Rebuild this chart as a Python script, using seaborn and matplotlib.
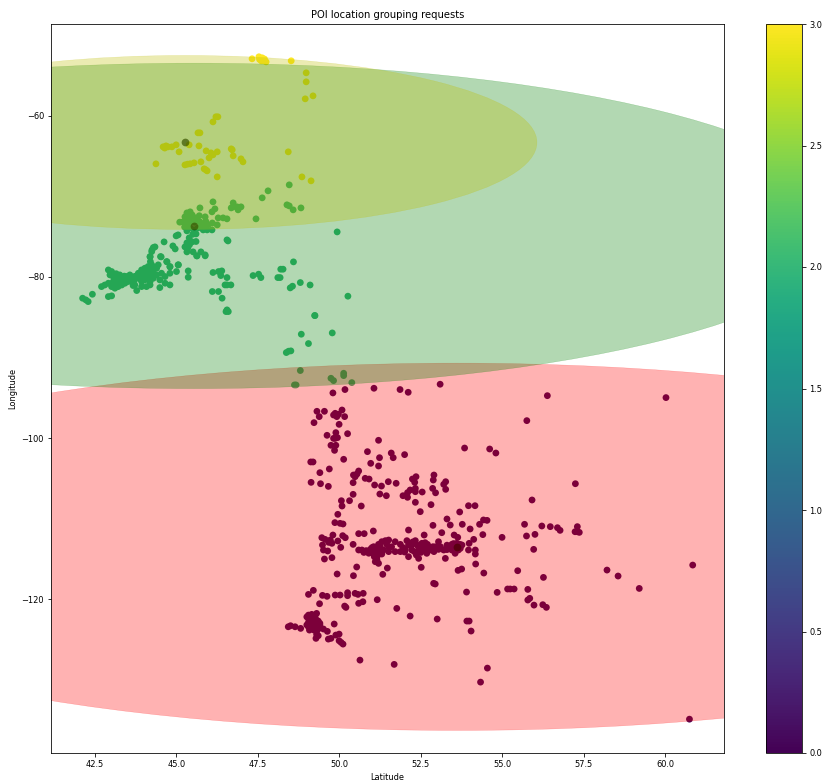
import numpy as np
import pandas as pd
import matplotlib
matplotlib.use("Agg")
import matplotlib.pyplot as plt
from matplotlib.patches import Circle
from matplotlib.cm import ScalarMappable
from matplotlib.colors import Normalize
import seaborn as sns

plt.rcParams['font.size'] = 8.3

# (lat, lon), one list per group
group_0 = [
    (49.8,-94.4),(50.17,-93.98),(51.06,-93.82),(51.86,-93.98),(52.11,-94.32),(53.09,-93.32),
    (55.75,-97.84),(49.31,-96.68),(49.54,-96.68),(49.38,-97.34),(50.08,-96.52),(49.82,-97.14),
    (49.9,-97.14),(49.97,-97.05),(49.87,-96.93),(49.92,-97.34),(50.16,-97.34),(49.22,-98.09),
    (49.99,-98.3),(49.62,-99.66),(49.89,-99.33),(49.87,-100.04),(49.94,-99.95),(49.82,-100.04),
    (50.25,-99.46),(51.2,-100.28),(49.74,-100.9),(49.89,-100.9),(49.85,-101.53),(50.86,-101.69),
    (51.59,-101.86),(51.65,-102.44),(51.23,-102.44),(52.0,-102.06),(53.84,-101.24),(54.61,-101.36),
    (54.8,-101.86),(50.13,-102.64),(49.12,-102.97),(49.19,-102.97),(50.96,-103.14),(51.2,-103.47),
    (49.69,-103.84),(49.4,-104.3),(50.59,-104.09),(50.43,-104.59),(50.5,-104.59),(50.54,-104.46),
    (50.48,-104.8),(50.79,-105.0),(50.91,-105.09),(49.13,-105.5),(49.42,-105.67),(49.66,-106.0),
    (50.42,-105.54),(51.08,-105.83),(51.29,-105.96),(51.5,-105.42),(51.74,-105.62),(52.35,-104.8),
    (52.24,-105.09),(52.31,-105.5),(52.9,-104.59),(52.88,-105.21),(53.26,-105.42),(53.2,-105.75),
    (53.26,-106.37),(52.86,-106.25),(52.95,-106.8),(52.54,-106.7),(52.33,-106.25),(52.33,-106.66),
    (52.17,-106.45),(52.09,-106.78),(51.95,-107.16),(52.09,-107.36),(51.24,-106.95),(51.44,-107.16),
    (50.42,-106.99),(50.06,-107.78),(50.31,-107.78),(50.08,-108.44),(50.67,-108.44),(52.33,-107.98),
    (52.81,-108.27),(53.96,-108.4),(54.16,-108.4),(49.95,-109.47),(52.48,-109.14),(53.69,-109.18),
    (49.86,-110.5),(50.02,-110.59),(50.11,-110.67),(53.3,-110.05),(53.4,-110.8),(52.87,-110.84),
    (53.77,-110.71),(54.01,-111.29),(54.3,-110.71),(54.42,-110.17),(54.53,-110.22),(55.68,-110.71),
    (55.74,-112.16),(54.99,-112.33),(54.4,-111.99),(54.12,-112.58),(53.98,-113.07),(52.12,-111.42),
    (51.04,-111.54),(50.59,-111.87),(50.76,-111.87),(52.6,-112.04),(53.14,-111.75),(53.52,-112.04),
    (53.63,-112.33),(49.46,-112.37),(49.56,-112.58),(49.8,-112.04),(49.72,-112.66),(49.77,-113.07),
    (49.67,-112.95),(49.95,-112.78),(50.1,-112.12),(50.18,-112.37),(49.48,-113.28),(49.51,-113.9),
    (49.64,-114.02),(50.04,-113.57),(50.42,-113.2),(49.54,-115.02),(49.77,-114.85),
    (50.59,-113.9),(50.69,-113.9),(50.82,-113.98),(50.95,-113.82),(51.05,-113.49),(51.1,-113.9),
    (51.0,-114.23),(51.13,-114.31),(51.2,-114.1),(51.25,-113.49),(51.07,-114.73),(51.15,-115.14),
    (51.2,-115.56),(51.1,-115.35),(51.3,-112.87),(51.41,-112.74),(51.51,-112.66),(51.51,-113.49),
    (51.51,-114.1),(51.35,-113.9),(51.71,-112.87),(51.87,-113.2),(51.71,-114.1),(51.87,-114.1),
    (52.02,-113.9),(52.07,-112.74),(52.12,-113.28),(52.22,-113.9),(52.12,-114.73),(52.33,-112.74),
    (52.38,-113.28),(52.36,-114.52),(52.43,-114.94),(52.43,-113.9),(52.53,-113.07),(52.63,-112.99),
    (52.63,-113.9),(52.68,-114.31),(52.74,-113.49),(52.87,-113.49),(53.04,-112.87),(53.04,-113.82),
    (53.2,-113.9),(53.38,-113.69),(53.5,-113.49),(53.6,-113.07),(53.6,-113.49),(53.71,-113.69),
    (53.55,-114.31),(53.76,-113.28),(53.96,-113.9),(54.17,-113.9),(54.17,-114.4),(53.25,-114.94),
    (52.51,-116.05),(54.18,-115.64),(53.64,-116.43),(53.75,-116.26),(54.43,-116.76),(55.47,-116.47),
    (50.53,-116.01),(51.47,-116.14),(51.33,-116.92),(49.93,-116.88),(50.43,-117.09),(52.89,-118.04),
    (52.94,-118.12),(53.9,-119.12),(54.84,-119.16),(55.16,-118.74),(55.24,-118.74),(55.36,-118.74),
    (55.78,-118.79),(55.78,-120.11),(49.2,-118.91),(49.05,-119.41),(49.48,-119.53),(49.62,-119.65),
    (49.87,-119.49),(50.02,-119.49),(50.25,-119.2),(50.25,-119.57),(50.48,-119.28),(50.57,-119.41),
    (50.73,-119.28),(50.59,-120.52),(50.72,-120.32),(51.16,-120.07),(49.39,-120.57),(50.16,-120.86),
    (50.2,-121.02),(51.76,-121.15),(52.17,-122.1),(53.0,-122.47),(53.91,-122.72),(53.98,-122.72),
    (54.04,-123.96),(50.63,-127.57),(51.68,-128.1),(54.54,-128.56),(54.33,-130.3),(48.43,-123.43),
    (48.5,-123.3),(48.64,-123.43),(48.81,-123.63),(49.05,-121.98),(49.15,-121.89),(49.3,-121.77),
    (49.05,-122.39),(49.2,-122.39),(49.05,-122.89),(49.18,-122.89),(49.35,-122.72),(49.05,-123.43),
    (49.15,-123.43),(49.3,-123.3),(49.4,-123.22),(49.08,-123.84),(49.22,-123.84),(49.38,-123.63),
    (49.51,-123.71),(49.63,-124.0),(49.3,-124.38),(49.35,-124.54),(49.28,-124.87),(49.84,-123.09),
    (49.66,-124.96),(49.74,-124.87),(49.89,-124.46),(49.99,-124.34),(49.99,-125.16),(50.05,-125.37),
    (50.11,-125.58),(56.38,-94.74),(60.02,-94.98),(57.24,-105.67),(55.91,-107.69),(56.21,-110.92),
    (56.47,-111.0),(56.69,-111.13),(56.77,-111.46),(57.3,-111.0),(57.23,-111.63),(57.36,-111.71),
    (57.3,-111.63),(56.0,-111.96),(55.96,-113.82),(56.26,-117.3),(58.21,-116.39),(58.55,-117.13),
    (59.2,-118.67),(60.84,-115.77),(55.84,-119.9),(55.97,-120.74),(56.24,-120.69),(56.35,-121.02),
    (60.74,-134.9),
    # the dense band along -113.5
    (50.75,-114.2),(50.9,-114.3),(51.0,-113.6),(51.2,-113.2),(51.3,-114.4),(51.15,-114.8),
    (51.45,-113.2),(51.6,-113.5),(51.95,-113.6),(52.0,-114.15),(52.2,-113.4),(52.3,-114.1),
    (52.45,-113.5),(52.5,-114.2),(52.55,-113.6),(52.8,-113.9),(52.95,-113.5),(53.1,-113.5),
    (53.3,-113.3),(53.3,-113.85),(53.45,-113.2),(53.45,-113.9),(53.55,-113.7),(53.7,-113.2),
    (52.9,-114.1),(52.7,-113.2),(52.25,-112.9),(53.65,-113.9),(53.5,-113.1),(53.65,-113.5),
    # the dense patch near -123
    (49.0,-122.2),(49.1,-122.6),(49.25,-122.1),(49.3,-122.6),(49.12,-123.1),(49.25,-123.05),
    (49.0,-123.2),(49.4,-123.0),(49.2,-123.6),(49.3,-124.0),
]

group_2 = [
    (42.12,-82.64),(42.22,-82.85),(42.29,-83.06),(42.42,-82.15),(42.91,-82.44),(43.01,-82.35),
    (42.7,-81.2),(42.8,-81.0),(42.91,-80.78),(43.01,-81.2),(43.11,-81.4),(43.21,-81.2),
    (43.32,-81.0),(43.42,-80.78),(43.52,-80.57),(43.62,-80.16),(43.72,-79.95),(43.83,-79.54),
    (43.93,-79.13),(44.03,-78.92),(44.13,-78.71),(44.24,-78.5),(42.91,-79.13),(43.01,-79.33),
    (42.96,-79.75),(43.06,-79.95),(43.16,-80.16),(43.26,-80.37),(43.37,-80.16),(43.47,-79.95),
    (43.57,-79.75),(43.06,-80.57),(43.16,-80.78),(43.26,-79.75),(43.88,-79.95),(43.98,-79.75),
    (44.08,-79.54),(44.19,-79.33),(44.29,-79.13),(44.39,-78.92),(44.44,-78.5),(44.19,-79.95),
    (44.29,-80.16),(44.08,-80.16),(43.93,-80.57),(44.03,-80.37),(44.19,-80.57),(44.39,-79.75),
    (44.54,-79.54),(44.65,-79.95),(44.49,-80.37),(44.65,-80.78),(44.8,-80.99),(44.49,-81.32),
    (43.72,-80.99),(43.78,-81.69),(43.93,-81.2),(44.08,-81.2),(44.19,-80.99),(43.67,-81.07),
    (44.8,-79.54),(45.0,-79.33),(45.06,-78.5),(44.7,-78.09),(44.8,-78.71),(44.51,-77.47),
    (44.19,-77.47),(44.24,-76.85),(44.29,-76.35),(45.36,-79.25),(45.36,-80.04),
    (46.12,-79.45),(46.29,-79.33),(46.39,-79.25),(46.36,-79.83),(46.55,-80.08),(46.49,-80.99),
    (46.55,-80.99),(46.67,-80.99),(46.1,-81.81),(46.29,-81.81),(46.4,-82.64),(46.52,-84.3),
    (46.59,-84.3),(46.55,-84.09),(47.35,-79.83),(47.52,-79.66),(47.59,-80.08),(48.11,-80.08),
    (48.18,-80.08),(48.2,-79.04),(48.27,-79.04),(48.59,-78.13),(48.8,-80.7),(49.1,-81.0),
    (48.49,-81.36),(48.56,-81.15),(49.25,-84.8),(45.62,-77.38),(45.88,-77.38),
    (50.26,-82.39),(49.24,-84.79),(48.83,-87.11),(49.78,-86.95),(49.05,-88.27),(48.37,-89.39),
    (48.44,-89.22),(48.51,-89.18),(48.8,-91.62),(50.13,-91.96),(50.13,-92.25),(49.74,-92.58),
    (49.82,-92.87),(50.38,-93.12),(48.62,-93.41),(48.67,-93.41),
    (47.81,-69.31),(47.63,-70.18),(48.46,-68.57),(48.39,-71.05),(48.46,-71.18),(48.58,-71.67),
    (48.82,-71.43),(47.44,-72.79),(46.12,-70.68),(45.72,-71.43),(46.18,-71.55),(46.09,-71.92),
    (46.74,-70.81),(46.74,-71.3),(46.86,-71.3),(46.98,-71.3),(46.89,-71.67),(46.68,-71.43),
    (45.42,-71.92),(45.32,-72.05),(45.26,-72.54),(45.2,-73.17),(45.32,-73.54),(45.42,-73.17),
    (45.63,-72.92),(45.88,-72.54),(45.78,-73.54),(45.97,-73.54),(46.28,-72.67),(46.43,-72.67),
    (46.55,-72.79),(46.25,-73.54),(45.82,-74.16),(45.94,-74.16),(45.32,-74.28),(45.54,-74.16),
    (45.48,-72.3),(45.29,-72.92),(45.57,-72.67),(45.72,-73.17),(45.42,-73.91),(45.66,-73.91),
    (46.09,-74.16),(49.93,-74.41),(45.05,-74.78),(44.99,-74.9),(45.6,-74.66),(46.55,-75.4),
    (46.58,-75.53),(44.62,-75.65),(45.39,-75.15),(45.32,-75.77),(45.48,-75.65),(45.26,-76.27),
    (45.35,-76.39),(44.89,-76.15),(44.96,-76.52),(44.34,-76.27),(44.25,-76.64),(44.19,-77.51),
    (44.53,-77.51),(44.71,-78.13),(44.8,-78.75),(45.05,-78.5),(45.32,-76.89),(45.51,-76.89),
    (45.63,-77.39),(45.75,-76.89),(45.88,-77.26),
    # the dense patch around -80 and the one near the centre
    (43.3,-80.6),(43.5,-80.2),(43.7,-80.4),(43.85,-80.2),(44.0,-79.3),(44.0,-80.0),(44.15,-79.0),
    (44.3,-79.6),(44.2,-78.1),(43.75,-79.9),(43.6,-80.5),(43.15,-79.6),(43.4,-79.9),(43.05,-81.0),
    (45.1,-73.2),(45.4,-72.6),(45.55,-73.2),(45.7,-72.4),(45.9,-73.1),(46.1,-73.3),(45.25,-73.8),
    (45.85,-74.0),(45.5,-74.7),(45.6,-75.6),(45.4,-76.0),
]

group_3 = [
    (47.32,-52.92),(47.53,-52.67),(47.63,-52.8),(47.66,-53.17),(47.75,-53.3),(47.6,-53.17),
    (48.52,-53.17),(48.98,-54.66),(48.98,-55.78),(48.95,-57.89),(49.19,-57.52),(46.21,-60.12),
    (46.27,-60.12),(46.12,-60.75),(45.66,-62.11),(45.72,-62.11),(45.39,-63.6),(44.68,-63.73),
    (44.59,-63.85),(44.74,-63.85),(44.99,-63.6),(44.86,-63.85),(45.69,-63.73),(45.91,-64.35),
    (46.68,-64.1),(48.43,-64.47),(45.08,-64.47),(46.25,-64.47),(46.06,-64.6),(46.12,-64.84),
    (46.0,-65.22),(46.71,-64.22),(46.74,-64.97),(46.98,-65.34),(47.04,-65.71),(44.37,-65.96),
    (45.26,-66.09),(45.42,-65.96),(45.54,-65.84),(45.75,-65.71),(45.85,-66.58),(45.94,-66.83),
    (46.25,-67.58),(48.85,-67.58),(49.13,-68.07),
    (47.55,-53.0),(47.7,-52.95),(45.9,-66.7),(45.34,-66.0),(44.64,-64.0),
]

# group centres and the radius drawn around each
centre_lat = [53.6, 45.54, 45.26]
centre_lon = [-113.5, -73.66, -63.3]
radii = [22.8, 20.2, 10.8]
circle_colors = ['r', 'g', 'y']

rows = []
for label, group in [(0, group_0), (2, group_2), (3, group_3)]:
    for lat, lon in group:
        rows.append((lat, lon, label))
df = pd.DataFrame(rows, columns=['lat', 'lon', 'label'])

fig = plt.figure(figsize=(11.5, 10.875), dpi=72)
ax = fig.add_axes([51/828, 30/783, 673/828, 729/783])
cax = fig.add_axes([766/828, 30/783, 36/828, 729/783])

sns.scatterplot(data=df, x='lat', y='lon', hue='label', palette='viridis', hue_norm=(0, 3),
                s=46, linewidth=0, legend=False, ax=ax)
ax.scatter(centre_lat, centre_lon, c='black', s=60, alpha=0.7, linewidths=0)

for x, y, r, col in zip(centre_lat, centre_lon, radii, circle_colors):
    ax.add_patch(Circle((x, y), r, facecolor=col, edgecolor=col, linewidth=0.4, alpha=0.3))

ax.set_xlim(41.15, 61.8)
ax.set_ylim(-139.1, -48.6)
ax.set_xticks(np.arange(42.5, 61, 2.5))
ax.set_yticks([-60, -80, -100, -120])
ax.set_title('POI location grouping requests', fontsize=10)
ax.set_xlabel('Latitude')
ax.set_ylabel('Longitude')

sm = ScalarMappable(norm=Normalize(0, 3), cmap='viridis')
fig.colorbar(sm, cax=cax, ticks=np.arange(0, 3.1, 0.5))

fig.savefig('out.png', dpi=72)
